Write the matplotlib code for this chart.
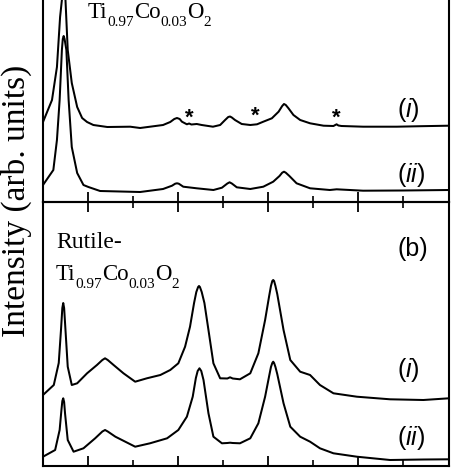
import matplotlib
matplotlib.use("Agg")
import matplotlib.pyplot as plt
from matplotlib.ticker import FixedLocator

plt.rcParams['mathtext.fontset'] = 'custom'
plt.rcParams['mathtext.rm'] = 'Liberation Serif'
plt.rcParams['mathtext.it'] = 'Liberation Sans:italic'
plt.rcParams['mathtext.bf'] = 'Liberation Serif:bold'

# ---- data (Raman shift, cm^-1 ; intensity, arb. units) ----
# top panel: Ti0.97Co0.03O2 (anatase), spectra (i) and (ii)
top_i_w = [100, 120, 131, 138, 142, 144, 146, 148, 150, 155, 164, 176, 187, 198, 212, 243,
           294, 316, 367, 383, 392, 398, 404, 409, 420, 425, 430, 442, 453, 478, 494, 505,
           512, 516, 520, 527, 542, 561, 576, 590, 609, 624, 632, 636, 640, 646, 657, 672,
           694, 724, 746, 750, 753, 757, 764, 812, 887, 940, 1003]
top_i_I = [80, 102, 135, 185, 202, 225, 232, 225, 202, 152, 119, 95, 84, 80, 77, 75,
           75.3, 74, 77, 80, 83, 84, 83, 80.3, 77.7, 78.5, 77.5, 78, 77, 75.3, 77, 82,
           85, 85.5, 84.5, 82, 78, 77, 77.7, 80.3, 83.7, 90.3, 96, 98, 97, 93.7, 87, 82,
           78.7, 76.3, 76, 77, 77.7, 76.5, 76, 75.3, 75.3, 75.8, 76.3]

top_ii_w = [100, 123, 131, 137, 142, 144, 146, 148, 152, 157, 164, 176, 190, 201, 227, 316,
            367, 387, 394, 398, 402, 412, 442, 479, 498, 510, 515, 520, 531, 561, 590, 612,
            626, 632, 636, 640, 648, 664, 694, 738, 753, 812, 900, 1003]
top_ii_I = [17, 32, 62, 102, 152, 163, 166, 163, 152, 102, 55, 29, 17, 15, 11, 10,
            13, 16.3, 18.3, 18.7, 18.3, 15.3, 13.7, 12, 14.3, 18.5, 19.7, 18.5, 14.7, 13, 15.3, 20.3,
            26, 29.3, 30.3, 29.3, 26, 18.7, 13.7, 12, 12.7, 11.3, 11.5, 12]

# bottom panel: Rutile-Ti0.97Co0.03O2, spectra (i) and (ii)
bot_i_w = [100, 124, 135, 140, 143, 145, 147, 150, 155, 164, 176, 198, 220, 232, 238, 244,
           257, 279, 305, 331, 361, 383, 401, 416, 427, 436, 441, 445, 447, 449, 453, 459, 468, 479,
           494, 510, 516, 522, 538, 561, 579, 594, 603, 607, 610, 612, 614, 617, 621, 635, 650, 672,
           694, 716, 746, 798, 872, 946, 1003]
bot_i_I = [71, 81, 103, 136, 158, 163, 158, 136, 99.3, 81, 82.7, 92.7, 101, 106, 107.7, 106,
           101, 92.7, 84.3, 87.7, 91, 96, 102.7, 119.3, 139.3, 163, 174, 179, 180, 179, 174, 163, 136, 102.7,
           87.7, 87.5, 88.7, 87.5, 86.7, 92.7, 112.7, 146, 170, 180, 185, 186, 185, 180, 172, 136, 106, 94.3,
           91, 81, 72.7, 69.3, 66.7, 66, 67.7]

bot_ii_w = [100, 127, 137, 141, 143, 145, 147, 149, 155, 168, 190, 216, 232, 238, 244, 261,
            283, 305, 338, 376, 401, 420, 433, 440, 444, 448, 452, 457, 468, 479, 498, 510,
            516, 522, 538, 561, 579, 594, 603, 607, 610, 612, 614, 617, 621, 635, 650, 672, 694, 716,
            746, 798, 872, 946, 1003]
bot_ii_I = [9.3, 16, 36, 56, 65, 67.7, 64, 52.7, 26, 14.3, 17.7, 27.7, 34.5, 36, 34.5, 29.3,
            24.3, 19.3, 22.7, 27.7, 36, 49.3, 69.3, 88, 95, 97.7, 95, 86, 52.7, 29.3, 22.7, 23,
            23.3, 23, 22.7, 27.7, 42.7, 69.3, 90, 99, 103, 104.3, 103, 99, 92, 62.7, 39.3, 29.3, 24.3, 17.7,
            12.7, 9.3, 6, 6.5, 6.7]

# asterisk marks (Raman shift, intensity) on spectrum (i) of the top panel
star_w = [425, 572, 752]
star_I = [78, 80, 78]

x_range = (100, 1003)
major_ticks = [200, 400, 600, 800]
minor_ticks = [300, 500, 700, 900]

# ---- figure ----
W = H = 474
fig = plt.figure(figsize=(W / 100, H / 100), dpi=100)
renderer = fig.canvas.get_renderer()

def fx(x):
    return x / W

def fy(y):
    return 1 - y / H

L, R = 43, 449
ax_top = fig.add_axes([fx(L), fy(202), (R - L) / W, 202 / H])
ax_bot = fig.add_axes([fx(L), fy(466), (R - L) / W, (466 - 202) / H])

lw = 1.45
ax_top.plot(top_i_w, top_i_I, color='black', lw=lw)
ax_top.plot(top_ii_w, top_ii_I, color='black', lw=lw)
ax_bot.plot(bot_i_w, bot_i_I, color='black', lw=lw)
ax_bot.plot(bot_ii_w, bot_ii_I, color='black', lw=lw)

ax_top.set_ylim(0, 202)
ax_bot.set_ylim(0, 264)

for ax in (ax_top, ax_bot):
    ax.set_xlim(*x_range)
    ax.xaxis.set_major_locator(FixedLocator(major_ticks))
    ax.xaxis.set_minor_locator(FixedLocator(minor_ticks))
    ax.set_yticks([])
    for s in ax.spines.values():
        s.set_linewidth(1.5)
    ax.tick_params(axis='x', which='major', direction='in', length=7, width=1.3,
                   labelbottom=False, labeltop=False)
    ax.tick_params(axis='x', which='minor', direction='in', length=4, width=1.2)
    ax.patch.set_alpha(0)

ax_top.spines['top'].set_visible(False)
ax_top.tick_params(axis='x', which='both', top=False, bottom=True)
ax_bot.tick_params(axis='x', which='both', top=True, bottom=True)

serif = 'Liberation Serif'
sans = 'Liberation Sans'

formula_parts = [('Ti', False), ('0.97', True), ('Co', False), ('0.03', True),
                 ('O', False), ('2', True)]

def draw_formula(x_px, base_px, main_size=16.5, sub_size=11, drop=8.5):
    x = x_px
    for txt, sub in formula_parts:
        yb = base_px + (drop if sub else 0)
        t = fig.text(fx(x), fy(yb), txt, family=serif,
                     fontsize=sub_size if sub else main_size,
                     ha='left', va='baseline')
        bb = t.get_window_extent(renderer)
        x = bb.x1

draw_formula(88, 18)
fig.text(fx(56), fy(248), 'Rutile-', family=serif, fontsize=17, ha='left', va='baseline')
draw_formula(56, 280)

lab_i = r'($\mathit{i}$)'
lab_ii = r'($\mathit{ii}$)'
fig.text(fx(408), fy(110), lab_i, family=sans, fontsize=18, ha='center', va='center')
fig.text(fx(411), fy(175), lab_ii, family=sans, fontsize=18, ha='center', va='center')
fig.text(fx(408), fy(370), lab_i, family=sans, fontsize=18, ha='center', va='center')
fig.text(fx(411), fy(438), lab_ii, family=sans, fontsize=18, ha='center', va='center')
fig.text(fx(413), fy(249), '(b)', family=sans, fontsize=18, ha='center', va='center')

for xa, ya in zip(star_w, star_I):
    ax_top.text(xa, ya, '*', family=sans, fontsize=16, fontweight='bold',
                ha='center', va='baseline')

fig.text(fx(16), fy(201), 'Intensity (arb. units)', family=serif, fontsize=24,
         rotation=90, ha='center', va='center')

fig.savefig('out.png', dpi=100)
